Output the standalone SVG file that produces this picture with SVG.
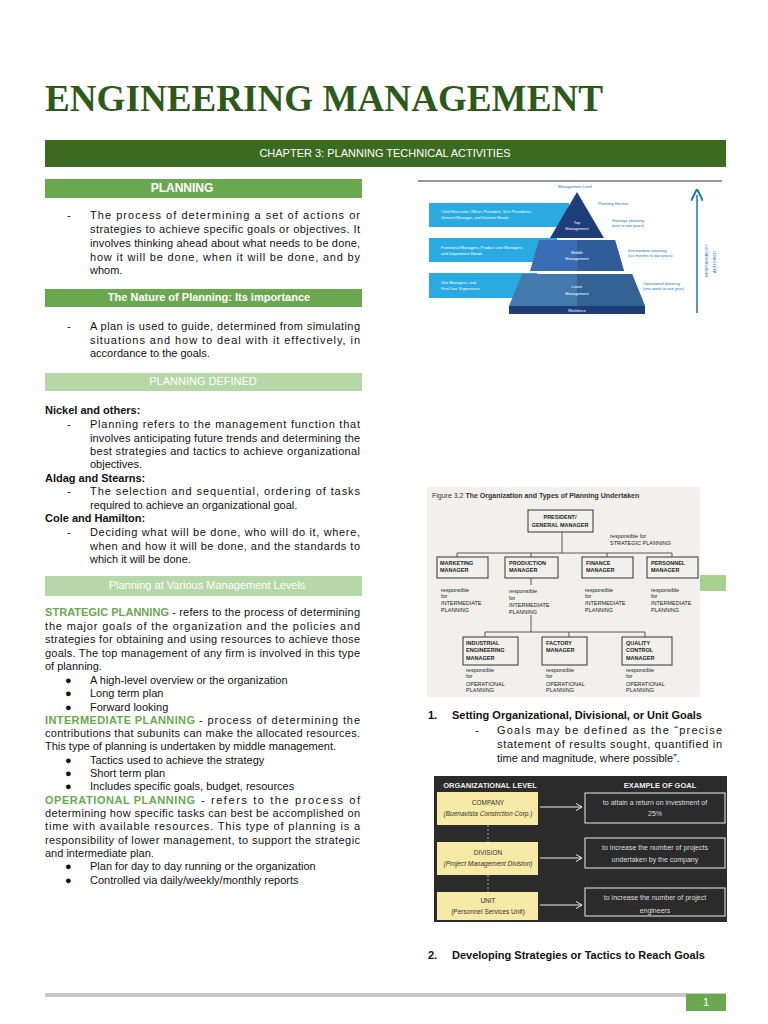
<svg xmlns="http://www.w3.org/2000/svg" width="768" height="1024" viewBox="0 0 768 1024">
<style>
text{font-family:"Liberation Sans",Arial,sans-serif;fill:#111}
.b{font-size:11px}
.bd{font-weight:bold}
.bar{font-size:11px;fill:#fff;font-weight:bold}
.gr{fill:#6aa84f;font-weight:bold;font-size:11px}
.s{font-size:5.5px;fill:#222}
.bx{fill:none;stroke:#333;stroke-width:1}
.bxt{font-size:5.5px;font-weight:bold;fill:#222}
.ln{stroke:#333;stroke-width:0.8;fill:none}
.pw{font-size:4px;fill:#fff}
.pb{font-size:4px;fill:#1b75bb}
.gw{font-size:7px;fill:#ddd}
.yl{font-size:6.5px;fill:#333}
</style>
<defs>
<marker id="ah" markerWidth="8" markerHeight="8" refX="7" refY="4" orient="auto"><path d="M1,0.5 L7,4 L1,7.5" fill="none" stroke="#eee" stroke-width="1"/></marker>
<marker id="ab" markerWidth="8" markerHeight="8" refX="4" refY="4" orient="auto"><path d="M0,0 L8,4 L0,8" fill="none" stroke="#1b75bb" stroke-width="1.3"/></marker>
</defs>
<rect width="768" height="1024" fill="#fff"/>
<text x="45" y="111" font-size="37" font-weight="bold" style="font-family:'Liberation Serif',serif;fill:#2d5a1b" textLength="558" lengthAdjust="spacingAndGlyphs">ENGINEERING MANAGEMENT</text>
<rect x="45" y="140" width="681" height="27" fill="#3b6b21"/>
<text x="385" y="157" class="b" text-anchor="middle" style="fill:#fff">CHAPTER 3: PLANNING TECHNICAL ACTIVITIES</text>

<g id="left">
<rect x="45" y="179" width="317" height="19" fill="#6aa84f"/>
<text x="182" y="192" class="bar" text-anchor="middle" style="font-size:12px">PLANNING</text>
<text x="67" y="219" class="b">-</text>
<text x="90" y="219" class="b" textLength="270" lengthAdjust="spacing">The process of determining a set of actions or</text>
<text x="90" y="233" class="b" textLength="270" lengthAdjust="spacing">strategies to achieve specific goals or objectives. It</text>
<text x="90" y="247" class="b" textLength="270" lengthAdjust="spacing">involves thinking ahead about what needs to be done,</text>
<text x="90" y="261" class="b" textLength="270" lengthAdjust="spacing">how it will be done, when it will be done, and by</text>
<text x="90" y="274" class="b">whom.</text>
<rect x="45" y="289" width="317" height="18" fill="#6aa84f"/>
<text x="209" y="301" class="bar" text-anchor="middle">The Nature of Planning: Its importance</text>
<text x="67" y="330" class="b">-</text>
<text x="90" y="330" class="b" textLength="270" lengthAdjust="spacing">A plan is used to guide, determined from simulating</text>
<text x="90" y="344" class="b" textLength="270" lengthAdjust="spacing">situations and how to deal with it effectively, in</text>
<text x="90" y="357" class="b">accordance to the goals.</text>
<rect x="45" y="373" width="317" height="18" fill="#b6d7a8"/>
<text x="203" y="385" class="bar" text-anchor="middle" style="font-weight:normal">PLANNING DEFINED</text>
<text x="45" y="414" class="b bd">Nickel and others:</text>
<text x="67" y="428" class="b">-</text>
<text x="90" y="428" class="b" textLength="270" lengthAdjust="spacing">Planning refers to the management function that</text>
<text x="90" y="442" class="b" textLength="270" lengthAdjust="spacing">involves anticipating future trends and determining the</text>
<text x="90" y="455" class="b" textLength="270" lengthAdjust="spacing">best strategies and tactics to achieve organizational</text>
<text x="90" y="468" class="b">objectives.</text>
<text x="45" y="482" class="b bd">Aldag and Stearns:</text>
<text x="67" y="495" class="b">-</text>
<text x="90" y="495" class="b" textLength="270" lengthAdjust="spacing">The selection and sequential, ordering of tasks</text>
<text x="90" y="509" class="b">required to achieve an organizational goal.</text>
<text x="45" y="522" class="b bd">Cole and Hamilton:</text>
<text x="67" y="536" class="b">-</text>
<text x="90" y="536" class="b" textLength="270" lengthAdjust="spacing">Deciding what will be done, who will do it, where,</text>
<text x="90" y="550" class="b" textLength="270" lengthAdjust="spacing">when and how it will be done, and the standards to</text>
<text x="90" y="563" class="b">which it will be done.</text>
<rect x="45" y="576" width="317" height="20" fill="#b6d7a8"/>
<text x="207" y="589" class="bar" text-anchor="middle" style="font-weight:normal">Planning at Various Management Levels</text>
<text x="45" y="616" class="gr" textLength="124" lengthAdjust="spacing">STRATEGIC PLANNING</text>
<text x="172" y="616" class="b" textLength="188" lengthAdjust="spacing">- refers to the process of determining</text>
<text x="45" y="630" class="b" textLength="315" lengthAdjust="spacing">the major goals of the organization and the policies and</text>
<text x="45" y="643" class="b" textLength="315" lengthAdjust="spacing">strategies for obtaining and using resources to achieve those</text>
<text x="45" y="657" class="b" textLength="315" lengthAdjust="spacing">goals. The top management of any firm is involved in this type</text>
<text x="45" y="670" class="b">of planning.</text>
<text x="65" y="684" class="b">●</text><text x="90" y="684" class="b">A high-level overview or the organization</text>
<text x="65" y="697" class="b">●</text><text x="90" y="697" class="b">Long term plan</text>
<text x="65" y="711" class="b">●</text><text x="90" y="711" class="b">Forward looking</text>
<text x="45" y="724" class="gr" textLength="150" lengthAdjust="spacing">INTERMEDIATE PLANNING</text>
<text x="199" y="724" class="b" textLength="161" lengthAdjust="spacing">- process of determining the</text>
<text x="45" y="737" class="b" textLength="315" lengthAdjust="spacing">contributions that subunits can make the allocated resources.</text>
<text x="45" y="750" class="b">This type of planning is undertaken by middle management.</text>
<text x="65" y="764" class="b">●</text><text x="90" y="764" class="b">Tactics used to achieve the strategy</text>
<text x="65" y="777" class="b">●</text><text x="90" y="777" class="b">Short term plan</text>
<text x="65" y="790" class="b">●</text><text x="90" y="790" class="b">Includes specific goals, budget, resources</text>
<text x="45" y="804" class="gr" textLength="150" lengthAdjust="spacing">OPERATIONAL PLANNING</text>
<text x="201" y="804" class="b" textLength="159" lengthAdjust="spacing">- refers to the process of</text>
<text x="45" y="817" class="b" textLength="315" lengthAdjust="spacing">determining how specific tasks can best be accomplished on</text>
<text x="45" y="830" class="b" textLength="315" lengthAdjust="spacing">time with available resources. This type of planning is a</text>
<text x="45" y="844" class="b" textLength="315" lengthAdjust="spacing">responsibility of lower management, to support the strategic</text>
<text x="45" y="857" class="b">and intermediate plan.</text>
<text x="65" y="870" class="b">●</text><text x="90" y="870" class="b">Plan for day to day running or the organization</text>
<text x="65" y="884" class="b">●</text><text x="90" y="884" class="b">Controlled via daily/weekly/monthly reports</text>
</g>

<g id="pyramid">
<line x1="418" y1="181" x2="722" y2="181" stroke="#333" stroke-width="1"/>
<rect x="429" y="203" width="140" height="24" fill="#29abe2"/>
<rect x="429" y="238" width="128" height="24" fill="#29abe2"/>
<rect x="429" y="273" width="108" height="25" fill="#29abe2"/>
<polygon points="577,192 604,238 550,238" fill="#1f3d78"/>
<polygon points="539,240 615,240 624,271 530,271" fill="#3a6db5"/>
<polygon points="577,240 615,240 624,271 577,271" fill="#2f5d99"/>
<polygon points="522,274 632,274 645,306 509,306" fill="#4479ae"/>
<polygon points="577,274 632,274 645,306 577,306" fill="#336394"/>
<rect x="509" y="306" width="136" height="8" fill="#1f3d78"/>
<text x="575" y="188" class="pb" text-anchor="middle">Management Level</text>
<text x="598" y="205" class="pb">Planning Horizon</text>
<text x="612" y="222" class="pb">Strategic planning</text><text x="612" y="227" class="pb">(one to two years)</text>
<text x="628" y="252" class="pb">Intermediate planning</text><text x="628" y="257" class="pb">(six months to two years)</text>
<text x="643" y="285" class="pb">Operational planning</text><text x="643" y="290" class="pb">(one week to one year)</text>
<text x="441" y="213" class="pw">Chief Executive Officer, President, Vice Presidents,</text>
<text x="441" y="219" class="pw">General Manager, and Division Heads</text>
<text x="441" y="249" class="pw">Functional Managers, Product Line Managers,</text>
<text x="441" y="255" class="pw">and Department Heads</text>
<text x="441" y="284" class="pw">Unit Managers, and</text>
<text x="441" y="290" class="pw">First Line Supervisors</text>
<text x="577" y="224" class="pw" text-anchor="middle">Top</text><text x="577" y="230" class="pw" text-anchor="middle">Management</text>
<text x="577" y="254" class="pw" text-anchor="middle">Middle</text><text x="577" y="260" class="pw" text-anchor="middle">Management</text>
<text x="577" y="288" class="pw" text-anchor="middle">Lower</text><text x="577" y="295" class="pw" text-anchor="middle">Management</text>
<text x="577" y="312" class="pw" text-anchor="middle">Workforce</text>
<line x1="697" y1="313" x2="697" y2="195" stroke="#1b75bb" stroke-width="1.5" marker-end="url(#ab)"/>
<text transform="translate(708,277) rotate(-90)" class="pb">RESPONSIBILITY</text>
<text transform="translate(716,273) rotate(-90)" class="pb">AUTHORITY</text>
</g>

<g id="orgchart">
<rect x="427" y="487" width="273" height="210" fill="#f1f0ec"/>
<text x="432" y="498" style="font-size:7px;fill:#333">Figure 3.2 <tspan font-weight="bold">The Organization and Types of Planning Undertaken</tspan></text>
<g id="conn-org">
<path class="ln" d="M562,532 V553 M457,553 H672 M457,553 V557 M531,553 V557 M607,553 V557 M672,553 V557 M531,578 V585 M531,615 V632 M485,632 H645 M485,632 V637 M569,632 V637 M645,632 V637"/>
</g>
<g id="n-pres"><rect class="bx" x="528" y="510" width="65" height="22"/><text class="bxt" x="560" y="519" text-anchor="middle">PRESIDENT/</text><text class="bxt" x="560" y="527" text-anchor="middle">GENERAL MANAGER</text></g>
<text class="s" x="610" y="538">responsible for</text><text class="s" x="610" y="545">STRATEGIC PLANNING</text>
<g id="n-mkt"><rect class="bx" x="437" y="557" width="51" height="21"/><text class="bxt" x="440" y="565">MARKETING</text><text class="bxt" x="440" y="572">MANAGER</text></g>
<g id="n-prod"><rect class="bx" x="505" y="557" width="53" height="21"/><text class="bxt" x="509" y="565">PRODUCTION</text><text class="bxt" x="509" y="572">MANAGER</text></g>
<g id="n-fin"><rect class="bx" x="582" y="557" width="51" height="21"/><text class="bxt" x="586" y="565">FINANCE</text><text class="bxt" x="586" y="572">MANAGER</text></g>
<g id="n-pers"><rect class="bx" x="647" y="557" width="51" height="21"/><text class="bxt" x="651" y="565">PERSONNEL</text><text class="bxt" x="651" y="572">MANAGER</text></g>
<text class="s" x="441" y="592">responsible</text><text class="s" x="441" y="598">for</text><text class="s" x="441" y="605">INTERMEDIATE</text><text class="s" x="441" y="612">PLANNING</text>
<text class="s" x="509" y="593">responsible</text><text class="s" x="509" y="600">for</text><text class="s" x="509" y="607">INTERMEDIATE</text><text class="s" x="509" y="614">PLANNING</text>
<text class="s" x="585" y="592">responsible</text><text class="s" x="585" y="598">for</text><text class="s" x="585" y="605">INTERMEDIATE</text><text class="s" x="585" y="612">PLANNING</text>
<text class="s" x="651" y="592">responsible</text><text class="s" x="651" y="598">for</text><text class="s" x="651" y="605">INTERMEDIATE</text><text class="s" x="651" y="612">PLANNING</text>
<g id="n-ie"><rect class="bx" x="463" y="637" width="55" height="28"/><text class="bxt" x="466" y="645">INDUSTRIAL</text><text class="bxt" x="466" y="652">ENGINEERING</text><text class="bxt" x="466" y="660">MANAGER</text></g>
<g id="n-fac"><rect class="bx" x="542" y="637" width="45" height="28"/><text class="bxt" x="546" y="645">FACTORY</text><text class="bxt" x="546" y="652">MANAGER</text></g>
<g id="n-qc"><rect class="bx" x="622" y="637" width="50" height="28"/><text class="bxt" x="626" y="645">QUALITY</text><text class="bxt" x="626" y="652">CONTROL</text><text class="bxt" x="626" y="660">MANAGER</text></g>
<text class="s" x="466" y="672">responsible</text><text class="s" x="466" y="678">for</text><text class="s" x="466" y="686">OPERATIONAL</text><text class="s" x="466" y="692">PLANNING</text>
<text class="s" x="546" y="672">responsible</text><text class="s" x="546" y="678">for</text><text class="s" x="546" y="686">OPERATIONAL</text><text class="s" x="546" y="692">PLANNING</text>
<text class="s" x="626" y="672">responsible</text><text class="s" x="626" y="678">for</text><text class="s" x="626" y="686">OPERATIONAL</text><text class="s" x="626" y="692">PLANNING</text>
</g>
<rect x="700" y="575" width="26" height="16" fill="#a9d18e"/>

<g id="section1">
<text x="428" y="719" class="b bd">1.</text>
<text x="452" y="719" class="b bd">Setting Organizational, Divisional, or Unit Goals</text>
<text x="475" y="734" class="b">-</text>
<text x="497" y="734" class="b" textLength="225" lengthAdjust="spacing">Goals may be defined as the “precise</text>
<text x="497" y="748" class="b" textLength="225" lengthAdjust="spacing">statement of results sought, quantified in</text>
<text x="497" y="762" class="b">time and magnitude, where possible”.</text>
</g>

<g id="goals">
<rect x="434" y="776" width="293" height="146" fill="#2b2b2b"/>
<text x="490" y="788" text-anchor="middle" style="font-size:7.5px;fill:#eee;font-weight:bold">ORGANIZATIONAL LEVEL</text>
<text x="660" y="788" text-anchor="middle" style="font-size:7.5px;fill:#eee;font-weight:bold">EXAMPLE OF GOAL</text>
<g id="conn-goal">
<line x1="488" y1="825" x2="488" y2="842" stroke="#aaa" stroke-dasharray="2,2"/>
<line x1="488" y1="875" x2="488" y2="892" stroke="#aaa" stroke-dasharray="2,2"/>
<line x1="540" y1="807" x2="582" y2="807" stroke="#eee" marker-end="url(#ah)"/>
<line x1="540" y1="858" x2="582" y2="858" stroke="#eee" marker-end="url(#ah)"/>
<line x1="540" y1="905" x2="582" y2="905" stroke="#eee" marker-end="url(#ah)"/>
</g>
<g id="n-company"><rect x="437" y="792" width="101" height="33" fill="#f7e9a6"/><text class="yl" x="488" y="805" text-anchor="middle">COMPANY</text><text class="yl" x="488" y="816" text-anchor="middle" font-style="italic">(Buenavista Constrction Corp.)</text></g>
<g id="n-division"><rect x="437" y="842" width="101" height="33" fill="#f7e9a6"/><text class="yl" x="488" y="855" text-anchor="middle">DIVISION</text><text class="yl" x="488" y="866" text-anchor="middle" font-style="italic">(Project Management Division)</text></g>
<g id="n-unit"><rect x="437" y="892" width="101" height="28" fill="#f7e9a6"/><text class="yl" x="488" y="903" text-anchor="middle">UNIT</text><text class="yl" x="488" y="914" text-anchor="middle">(Personnel Services Unit)</text></g>
<g id="g1"><rect x="585" y="793" width="140" height="30" fill="#2b2b2b" stroke="#eee" stroke-width="1"/><text class="gw" x="655" y="805" text-anchor="middle">to attain a return on investment of</text><text class="gw" x="655" y="816" text-anchor="middle">25%</text></g>
<g id="g2"><rect x="585" y="838" width="140" height="30" fill="#2b2b2b" stroke="#eee" stroke-width="1"/><text class="gw" x="655" y="850" text-anchor="middle">to increase the number of projects</text><text class="gw" x="655" y="862" text-anchor="middle">undertaken by the company</text></g>
<g id="g3"><rect x="585" y="888" width="140" height="28" fill="#2b2b2b" stroke="#eee" stroke-width="1"/><text class="gw" x="655" y="900" text-anchor="middle">to increase the number of project</text><text class="gw" x="655" y="913" text-anchor="middle">engineers</text></g>
</g>

<text x="428" y="959" class="b bd">2.</text>
<text x="452" y="959" class="b bd">Developing Strategies or Tactics to Reach Goals</text>

<rect x="45" y="993" width="681" height="4" fill="#c9c9c9"/>
<rect x="686" y="994" width="40" height="17" fill="#6aa84f"/>
<text x="706" y="1006" class="b" text-anchor="middle" style="fill:#fff">1</text>
</svg>
